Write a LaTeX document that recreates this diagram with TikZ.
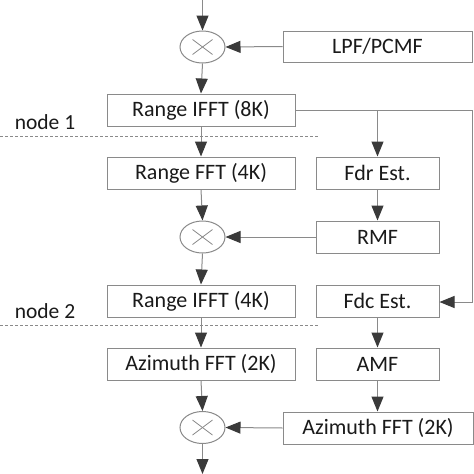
\documentclass[tikz,border=0pt]{standalone}
\usepackage{fontspec}
\setmainfont{Carlito}
\usetikzlibrary{arrows.meta,shapes.geometric}
\definecolor{linegray}{HTML}{8A8A8A}
\definecolor{headgray}{HTML}{3A3A3A}
\definecolor{txt}{HTML}{1A1A1A}
\begin{document}
\begin{tikzpicture}[x=1pt,y=-1pt,
  box/.style={draw=linegray,line width=1pt,fill=white,rectangle,inner sep=0pt,
    minimum height=32pt,text=txt,font=\fontsize{22}{25}\selectfont},
  widebox/.style={box,minimum width=188pt},
  narrowbox/.style={box,minimum width=123pt},
  mult/.style={draw=linegray,line width=1pt,ellipse,minimum width=45pt,minimum height=32pt,inner sep=0pt},
  conn/.style={draw=linegray,line width=1pt},
  arr/.style={conn,-{Triangle[length=15pt,width=12pt,color=headgray]}},
  sep/.style={draw=linegray,line width=0.9pt,dash pattern=on 3pt off 2pt},
  lbl/.style={text=txt,font=\fontsize{21.5}{24}\selectfont,inner sep=0pt}]
\useasboundingbox (0,0) rectangle (474,474);
\fill[white] (0,0) rectangle (474,474);

% multipliers
\node[mult] (m1) at (202.5,47) {};
\node[mult] (m2) at (202.5,237) {};
\node[mult] (m3) at (202.5,427.5) {};
\foreach \m in {m1,m2,m3}{
  \draw[linegray,line width=0.8pt] ([shift={(-10,-7.5)}]\m.center) -- ([shift={(10,7.5)}]\m.center);
  \draw[linegray,line width=0.8pt] ([shift={(-10,7.5)}]\m.center) -- ([shift={(10,-7.5)}]\m.center);
}

% boxes
\node[box,minimum width=189pt,minimum height=31pt] (lpf) at (377.5,46.5) {LPF/PCMF};
\node[widebox] (r8) at (201,110) {Range IFFT (8K)};
\node[widebox] (rf4) at (201,173) {Range FFT (4K)};
\node[widebox] (ri4) at (201,301) {Range IFFT (4K)};
\node[widebox] (az1) at (201,364) {Azimuth FFT (2K)};
\node[narrowbox] (fdr) at (377.5,173) {Fdr Est.};
\node[narrowbox] (rmf) at (377.5,237) {RMF};
\node[narrowbox] (fdc) at (377.5,301) {Fdc Est.};
\node[narrowbox] (amf) at (377.5,364) {AMF};
\node[box,minimum width=190pt] (az2) at (378,428) {Azimuth FFT (2K)};

% labels and separators
\node[lbl] (n1) at (45,122) {node 1};
\node[lbl] (n2) at (45,311) {node 2};
\coordinate (s1a) at (0,136);
\coordinate (s1b) at (318,136);
\coordinate (s2a) at (0,325);
\coordinate (s2b) at (318,325);
\draw[sep] (s1a) -- (s1b);
\draw[sep] (s2a) -- (s2b);

% free ends
\coordinate (top) at (202.5,0);
\coordinate (bot) at (202.5,474);
\coordinate (c1) at (472.5,110);
\coordinate (c2) at (472.5,302);
\coordinate (br) at (fdr.north |- r8.east);

% connectors
\draw[arr] (top) -- (m1.north);
\draw[arr] (lpf.west) -- (m1.east);
\draw[arr] (m1.south) -- (r8.north);
\draw[arr] (r8.south) -- (rf4.north);
\draw[conn] (r8.east) -- (c1) -- (c2);
\draw[arr] (c2) -- (fdc.east |- c2);
\draw[arr] (br) -- (fdr.north);
\draw[arr] (rf4.south) -- (m2.north);
\draw[arr] (fdr.south) -- (rmf.north);
\draw[arr] (rmf.west) -- (m2.east);
\draw[arr] (m2.south) -- (ri4.north);
\draw[arr] (ri4.south) -- (az1.north);
\draw[arr] (fdc.south) -- (amf.north);
\draw[arr] (amf.south) -- (az2.north -| amf.south);
\draw[arr] (az1.south) -- (m3.north);
\draw[arr] (az2.west) -- (m3.east);
\draw[arr] (m3.south) -- (bot);
\end{tikzpicture}
\end{document}
